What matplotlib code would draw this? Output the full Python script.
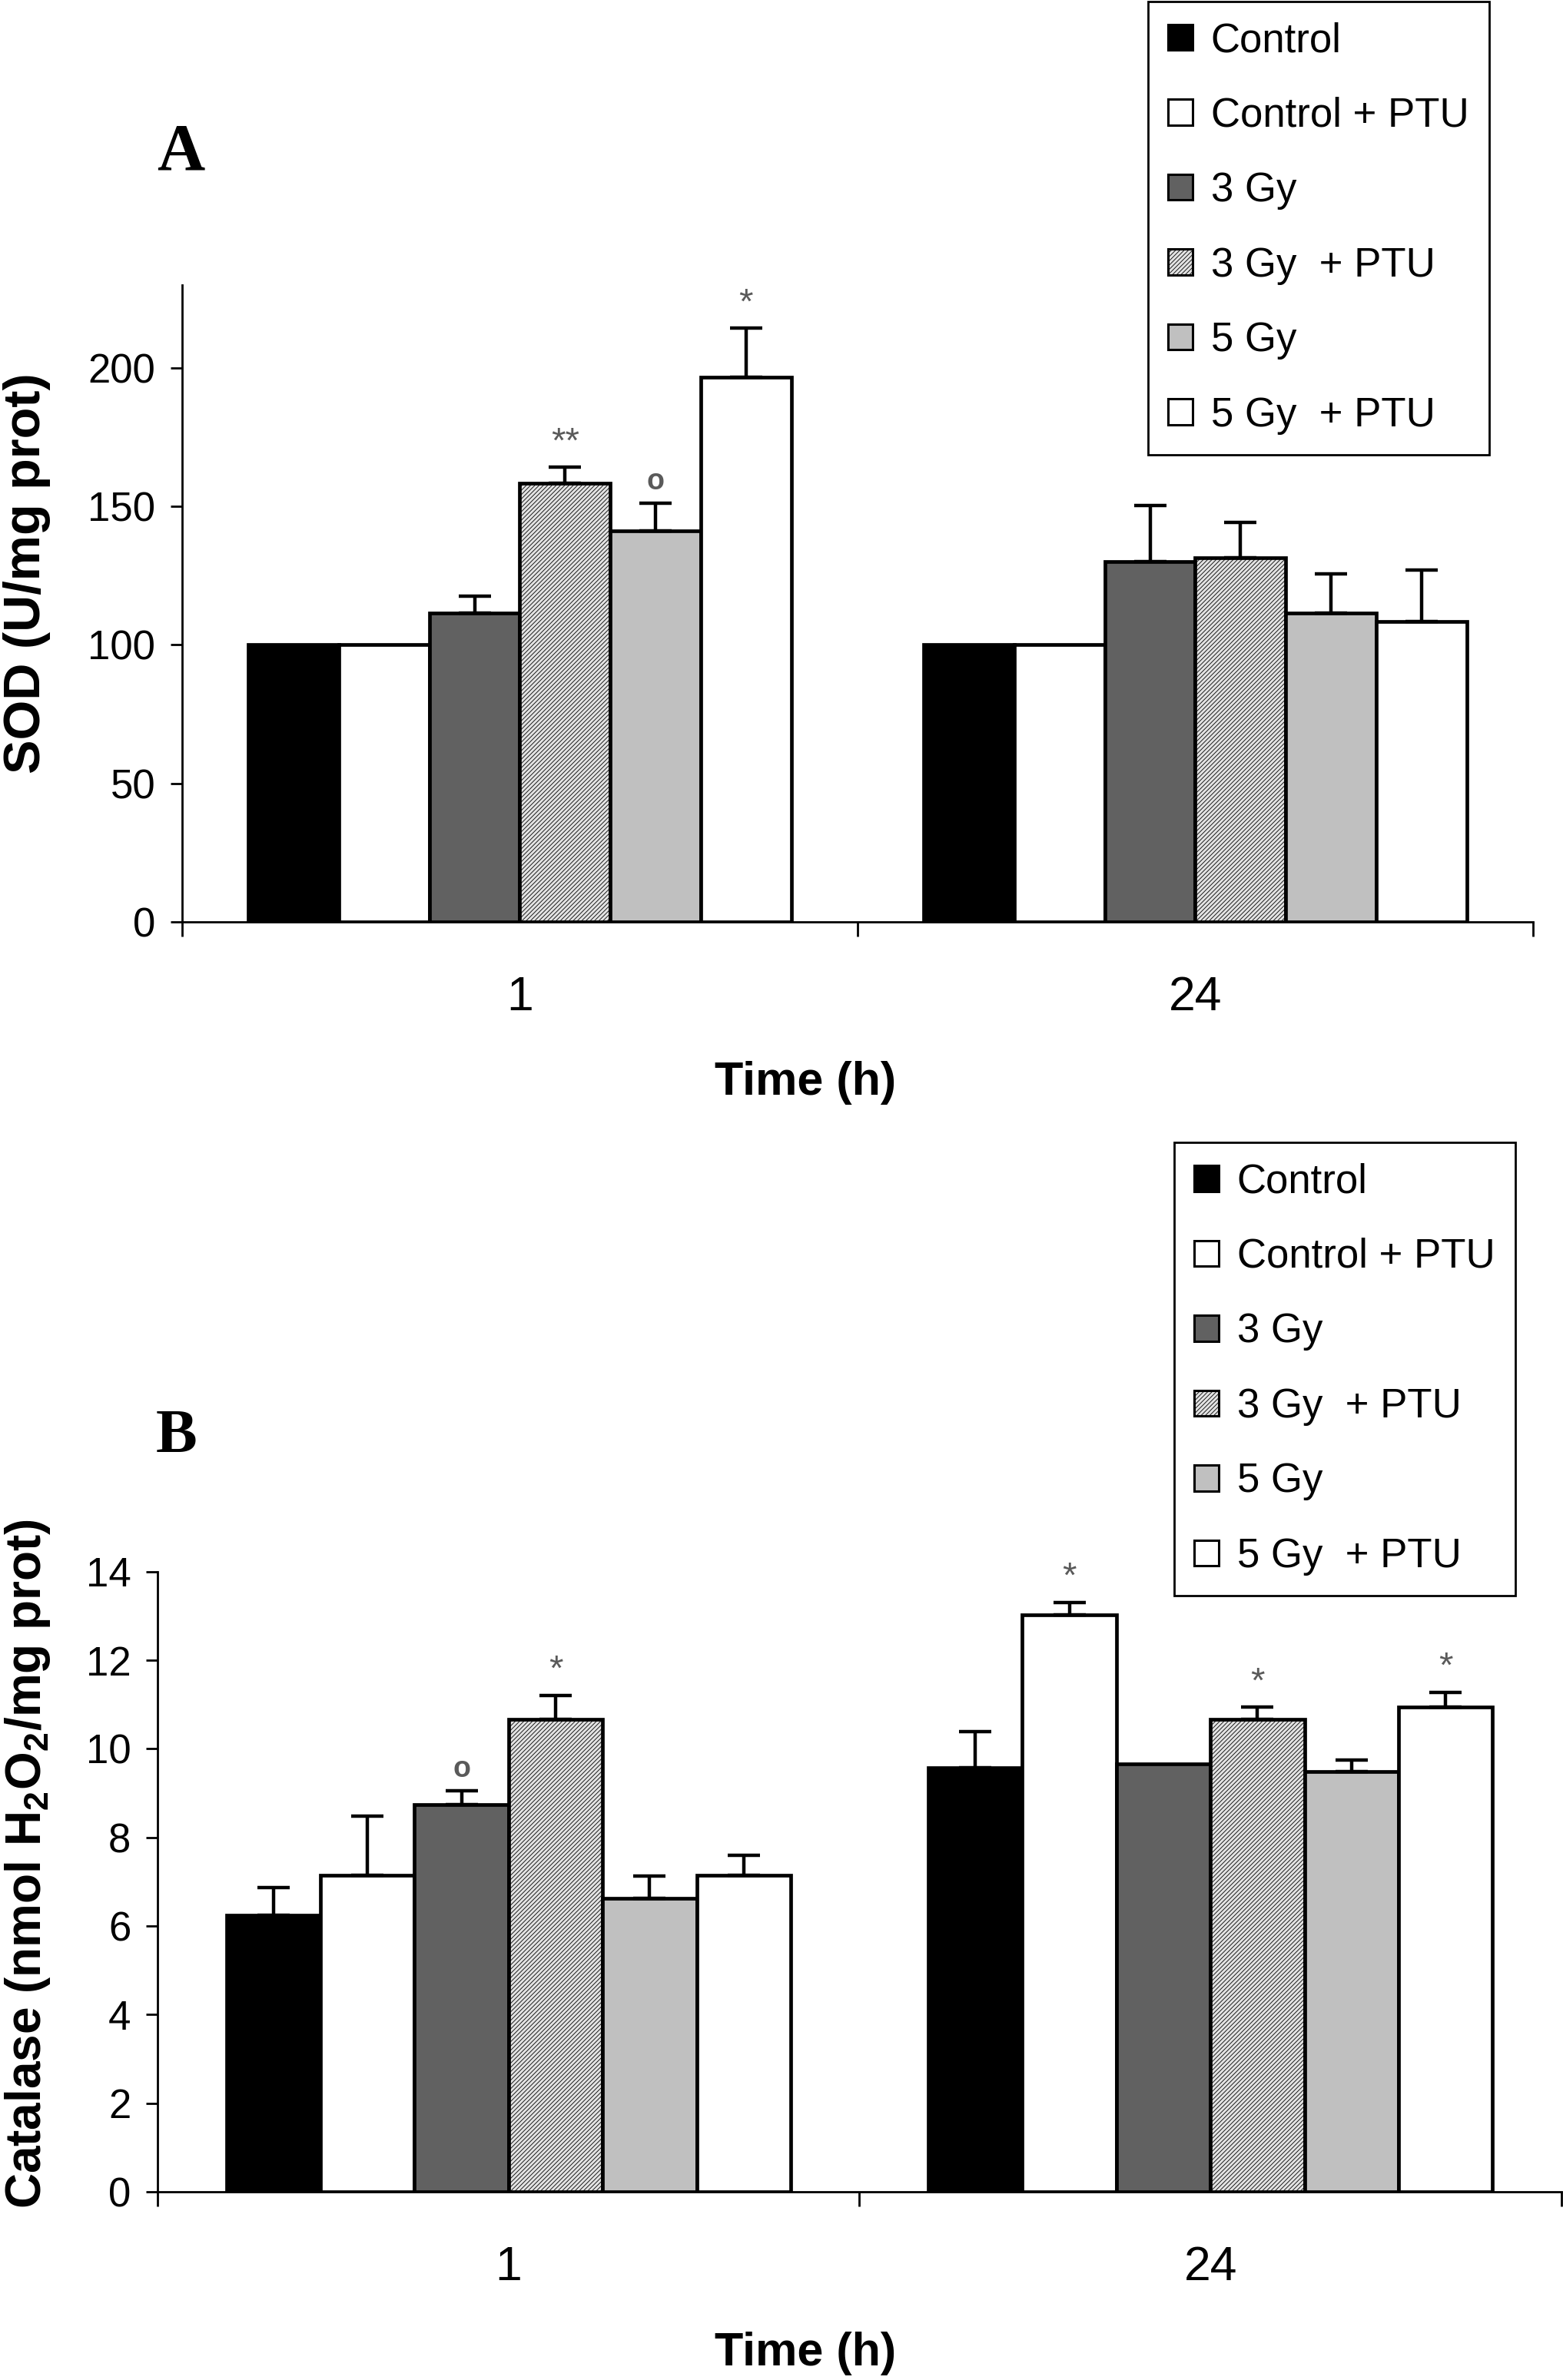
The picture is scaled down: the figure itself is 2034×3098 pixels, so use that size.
#!/usr/bin/env python3
"""SOD and catalase activity after irradiation, with and without PTU."""
import matplotlib
matplotlib.use("Agg")
import matplotlib.pyplot as plt
import numpy as np

GROUPS = ["Control", "Control + PTU", "3 Gy", "3 Gy  + PTU", "5 Gy", "5 Gy  + PTU"]
TIMES = ["1", "24"]

SOD_1H = [100, 100, 111.6, 158.5, 141.2, 196.7]
SOD_1H_ERR = [0, 0, 6.0, 5.7, 10.0, 17.7]
SOD_24H = [100, 100, 130.2, 131.5, 111.6, 108.3]
SOD_24H_ERR = [0, 0, 20.0, 12.6, 14.0, 18.8]
SOD_MARKS = [["", "", "", "**", "o", "*"], ["", "", "", "", "", ""]]

CAT_1H = [6.25, 7.15, 8.75, 10.66, 6.62, 7.15]
CAT_1H_ERR = [0.62, 1.33, 0.31, 0.55, 0.51, 0.45]
CAT_24H = [9.57, 13.03, 9.66, 10.66, 9.48, 10.94]
CAT_24H_ERR = [0.82, 0.28, 0, 0.28, 0.27, 0.34]
CAT_MARKS = [["", "", "o", "*", "", ""], ["", "*", "", "*", "", "*"]]

FILLS = ["#000000", "#ffffff", "#616161", "#e2e2e2", "#c0c0c0", "#ffffff"]
HATCH = [None, None, None, "//////", None, None]
MARK_C = "#5a5a5a"

plt.rcParams.update({"font.family": "Liberation Sans", "mathtext.fontset": "custom",
    "mathtext.rm": "Liberation Sans", "mathtext.bf": "Liberation Sans:bold",
    "hatch.color": "#a6a6a6", "hatch.linewidth": 0.6,
    "axes.linewidth": 2.0, "xtick.major.width": 2.0, "ytick.major.width": 2.0})

W = 2034 / 100, 3098 / 100
fig = plt.figure(figsize=W, dpi=100)


def panel(rect, vals, errs, marks, ylim, yticks, mark_off):
    ax = fig.add_axes(rect)
    bw = 0.134
    for t, (v, e, mk) in enumerate(zip(vals, errs, marks)):
        x = t + 0.5 + (np.arange(6) - 2.5) * bw
        for i in range(6):
            ax.bar(x[i], v[i], bw, color=FILLS[i], edgecolor="black", lw=3.4,
                   hatch=HATCH[i], zorder=2, label=GROUPS[i] if t == 0 else None)
        e = np.asarray(e)
        ok = e > 0
        ax.errorbar(x[ok], np.asarray(v)[ok], yerr=[np.zeros(ok.sum()), e[ok]],
                    fmt="none", ecolor="black", elinewidth=3.2, capsize=15,
                    capthick=3.2, zorder=3)
        for i in range(6):
            if mk[i]:
                bold = "bold" if mk[i] == "o" else "normal"
                fs = 27 if mk[i] == "o" else 34
                ax.annotate(mk[i], (x[i], v[i] + e[i]), xytext=(0, mark_off),
                            textcoords="offset points", ha="center", va="bottom",
                            fontsize=fs, fontweight=bold, color=MARK_C)
    ax.set_xlim(0, 2)
    ax.set_ylim(*ylim)
    ax.set_yticks(yticks)
    ax.set_xticks([0, 1, 2])
    ax.set_xticklabels([])
    ax.set_xticks([0.5, 1.5], minor=True)
    ax.set_xticklabels(TIMES, minor=True, fontsize=45)
    ax.tick_params(axis="x", which="major", length=14, direction="out")
    ax.tick_params(axis="x", which="minor", length=0, pad=50)
    ax.tick_params(axis="y", length=11, labelsize=38, pad=14)
    for sp in ("top", "right"):
        ax.spines[sp].set_visible(False)
    return ax


axA = panel([0.1165, 0.6127, 0.8643, 0.2676], [SOD_1H, SOD_24H],
            [SOD_1H_ERR, SOD_24H_ERR], SOD_MARKS, (0, 230), [0, 50, 100, 150, 200], 7)
axB = panel([0.1008, 0.0791, 0.8982, 0.2605], [CAT_1H, CAT_24H],
            [CAT_1H_ERR, CAT_24H_ERR], CAT_MARKS, (0, 14), range(0, 15, 2), 7)

for ax, anchor in ((axA, (0.7345, 0.9994)), (axB, (0.7512, 0.52))):
    leg = ax.legend(loc="upper left", bbox_to_anchor=anchor, bbox_transform=fig.transFigure,
                    borderaxespad=0, fontsize=38, fancybox=False, framealpha=1,
                    edgecolor="black", handlelength=0.6, handleheight=0.6,
                    handletextpad=0.45, labelspacing=0.9, borderpad=0.5)
    leg.get_frame().set_linewidth(2.0)
    for h in leg.legend_handles:
        h.set_linewidth(2.2)

fig.text(0.1155, 0.9354, "A", family="Liberation Serif", fontweight="bold",
         fontsize=62, ha="center", va="center")
fig.text(0.1131, 0.3961, "B", family="Liberation Serif", fontweight="bold",
         fontsize=58, ha="center", va="center")

fig.text(0.0172, 0.7592, "SOD (U/mg prot)", rotation=90, fontsize=48,
         fontweight="bold", ha="center", va="center")
fig.text(0.0177, 0.2169, r"Catalase (nmol H$_\mathbf{2}$O$_\mathbf{2}$/mg prot)",
         rotation=90, fontsize=46, fontweight="bold", ha="center", va="center")
fig.text(0.5152, 0.5449, "Time (h)", fontsize=44, fontweight="bold", ha="center", va="center")
fig.text(0.5152, 0.0110, "Time (h)", fontsize=44, fontweight="bold", ha="center", va="center")

fig.savefig("out.png", dpi=100)
print("saved out.png")
